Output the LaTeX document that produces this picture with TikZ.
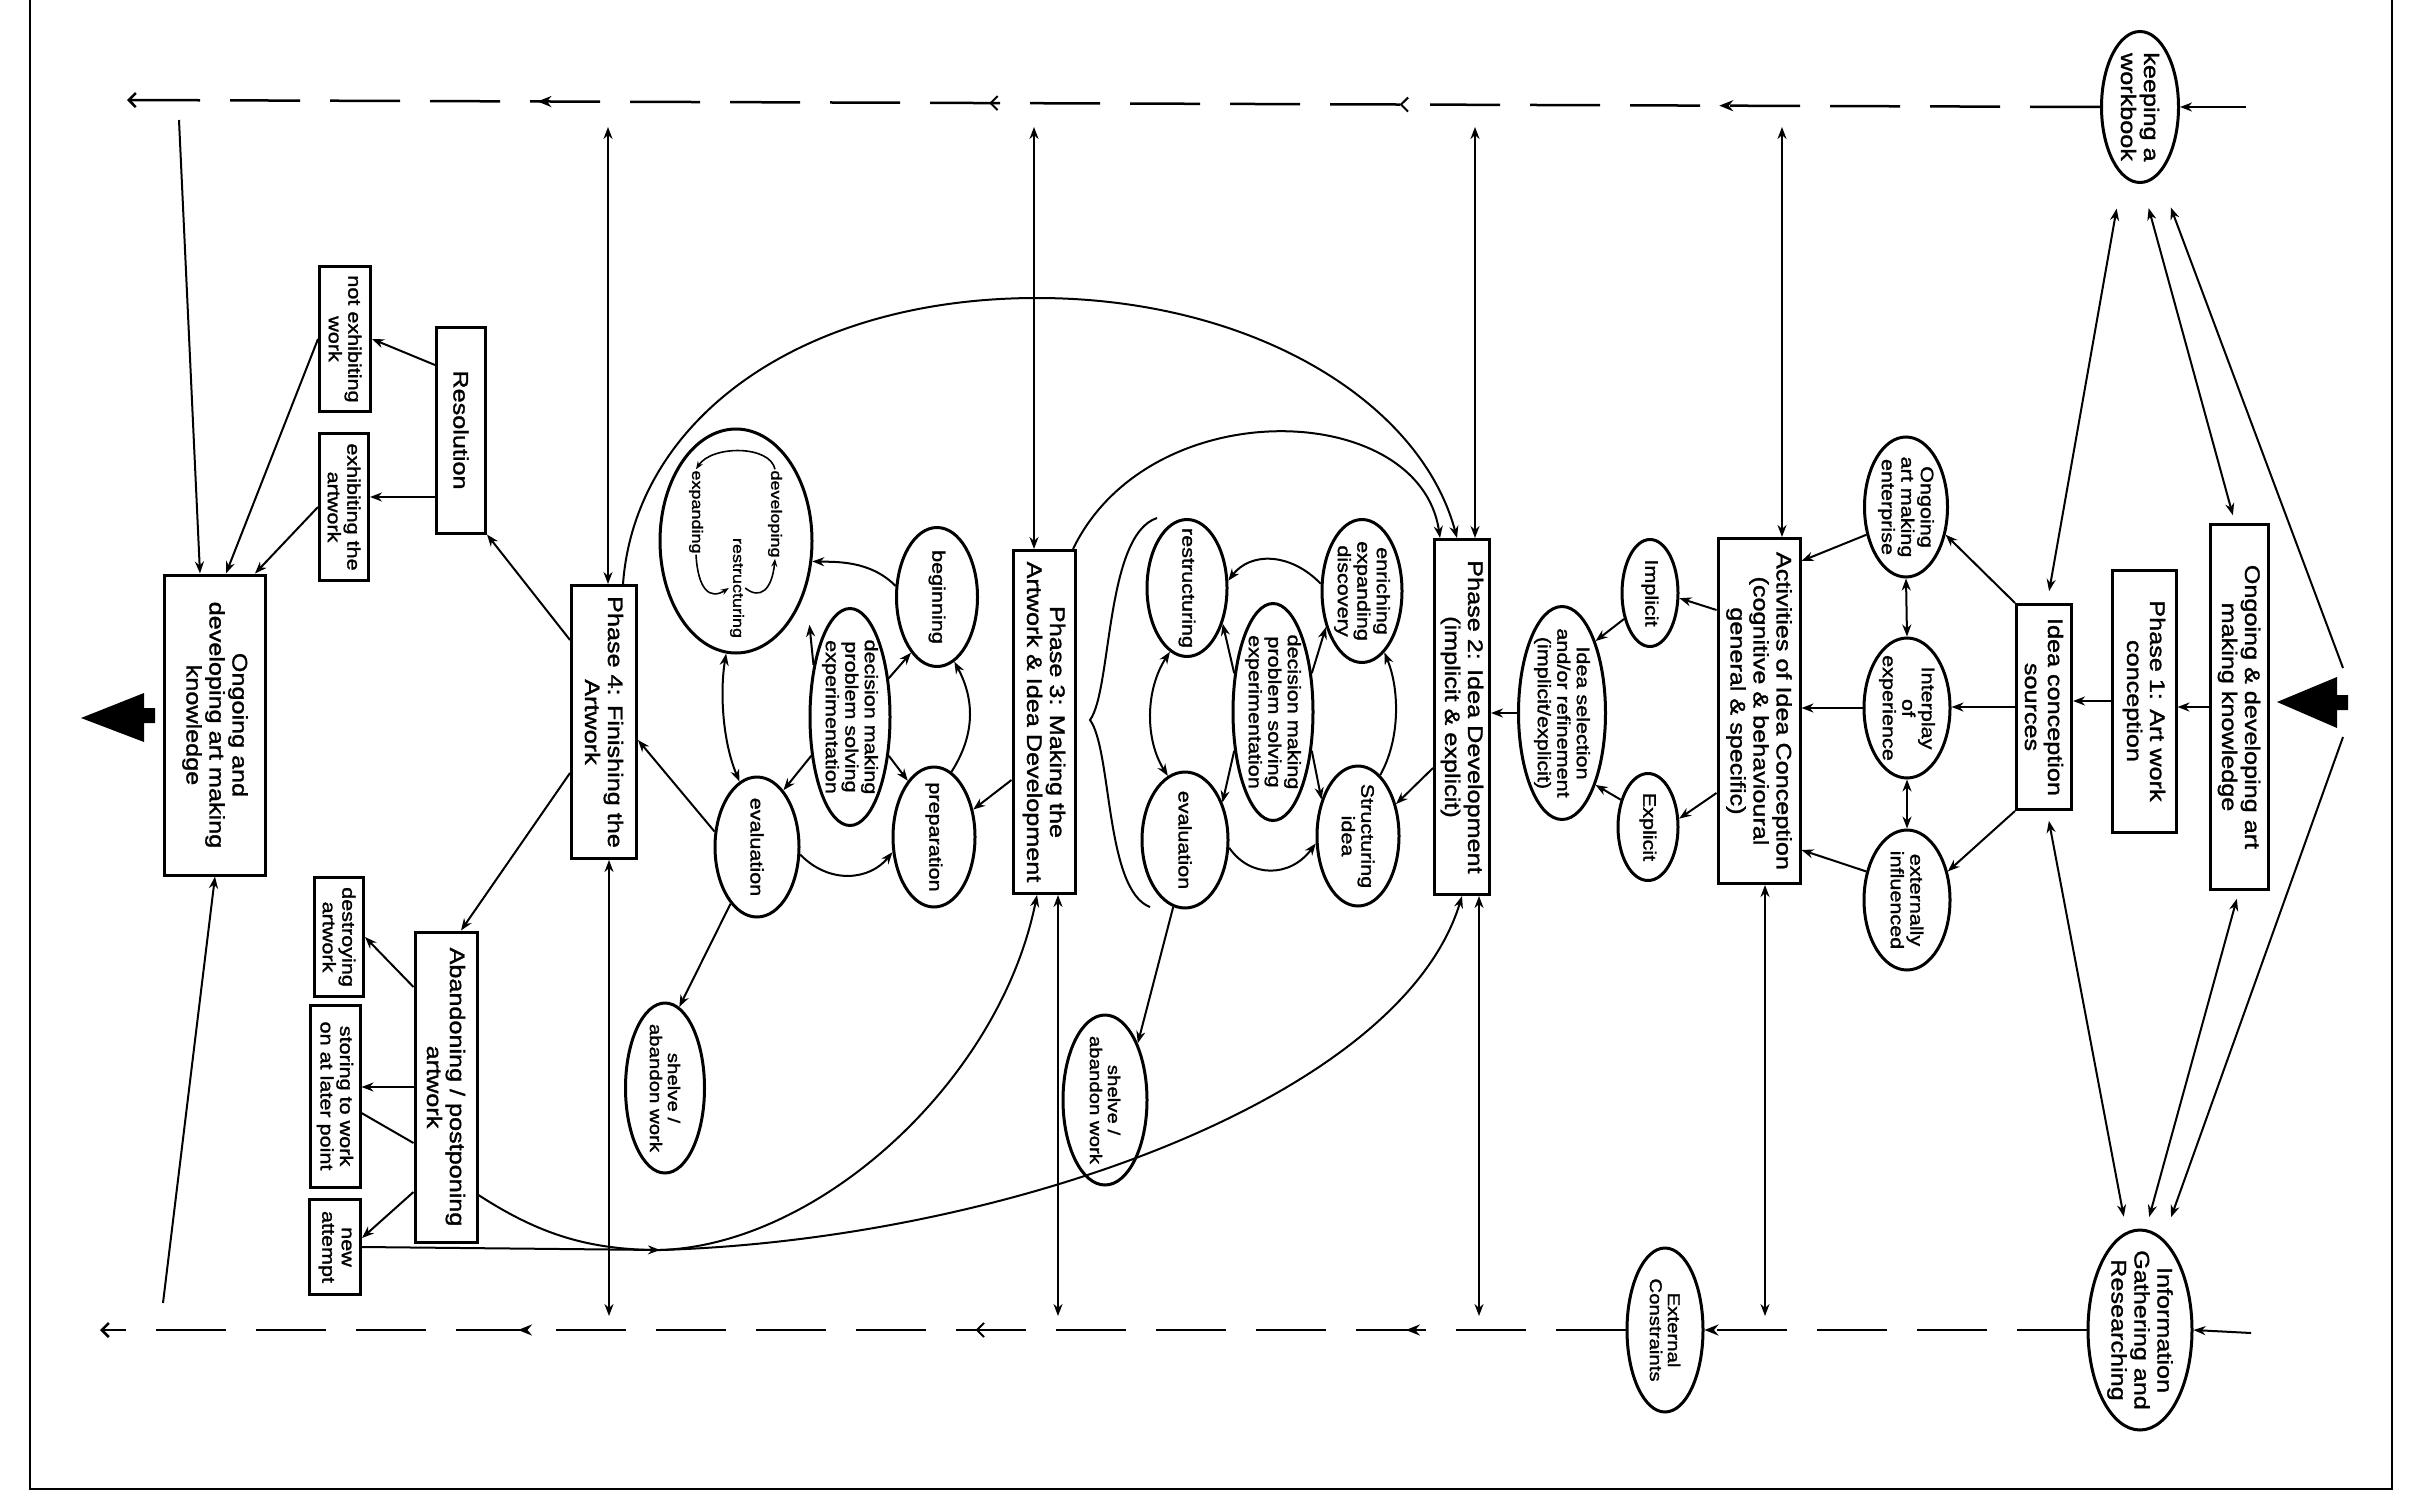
\documentclass[tikz,border=0pt]{standalone}
\usepackage{fontspec}
\setmainfont{Liberation Sans}[FakeStretch=1.2, FakeBold=1.5]
\usetikzlibrary{shapes.geometric, arrows.meta, calc, decorations.markings}
\newcommand{\fbx}{\fontsize{21}{23}\selectfont}
\newcommand{\fel}{\fontsize{18}{19.5}\selectfont}
\newcommand{\fsm}{\fontsize{17}{18}\selectfont}
\newcommand{\ftn}{\fontsize{15}{16}\selectfont}

\begin{document}
\begin{tikzpicture}[
    x=1pt, y=-1pt,
    box/.style={rectangle, draw, line width=3pt, inner sep=0pt},
    oval/.style={ellipse, draw, line width=3pt, inner sep=0pt},
    tB/.style={label={[rotate=-90, align=center, font=\fbx]center:{#1}}},
    tM/.style={label={[rotate=-90, align=center, font=\fel]center:{#1}}},
    tS/.style={label={[rotate=-90, align=center, font=\fsm]center:{#1}}},
    conn/.style={line width=2pt, -{Stealth[length=12pt, width=9pt]}},
    both/.style={line width=2pt, {Stealth[length=12pt, width=9pt]}-{Stealth[length=12pt, width=9pt]}},
    plain/.style={line width=2pt},
    small/.style={line width=1.6pt, -{Stealth[length=8pt, width=6pt]}},
    flow/.style={line width=2.5pt, dash pattern=on 70pt off 30pt},
    fa/.style={postaction={decorate, decoration={markings, mark=at position #1 with {\arrow{Stealth[length=14pt, width=11pt]}}}}},
    oa/.style={postaction={decorate, decoration={markings, mark=at position #1 with {\arrow{Straight Barb[length=7pt, width=14pt, line width=2pt]}}}}}
]
\useasboundingbox (0,0) rectangle (2412,1498);
\draw[line width=1.5pt] (30,0) -- (30,1489) -- (2392,1489) -- (2392,0);

% phase 1 side
\node[oval, minimum width=77, minimum height=151, tB={keeping a\\workbook}] (wb) at (2140,107) {};
\node[oval, minimum width=104, minimum height=200, tB={Information\\Gathering and\\Researching}] (info) at (2140,1330) {};
\node[box, minimum width=58, minimum height=365, tB={Ongoing \& developing art\\making knowledge}] (ongR) at (2239,707) {};
\node[box, minimum width=64, minimum height=262, tB={Phase 1: Art work\\conception}] (ph1) at (2144,701) {};
\node[box, minimum width=55, minimum height=205, tB={Idea conception\\sources}] (src) at (2044,707) {};
\node[oval, minimum width=83, minimum height=140, tM={Ongoing\\art making\\enterprise}] (ent) at (1906,507) {};
\node[oval, minimum width=86, minimum height=140, tM={Interplay\\of\\experience}] (inter) at (1907,708) {};
\node[oval, minimum width=86, minimum height=140, tM={externally\\influenced}] (ext) at (1907,900) {};
\node[box, minimum width=82, minimum height=345, tB={Activities of Idea Conception\\(cognitive \& behavioural\\general \& specific)}] (acts) at (1759,711) {};
\node[oval, minimum width=56, minimum height=107, tM={Implicit}] (impl) at (1650,593) {};
\node[oval, minimum width=60, minimum height=107, tM={Explicit}] (expl) at (1648,827) {};
\node[oval, minimum width=87, minimum height=213, tM={Idea selection\\and/or refinement\\(implicit/explicit)}] (sel) at (1562,713) {};
\node[oval, minimum width=76, minimum height=164, tS={External\\Constraints}] (extc) at (1665,1330) {};

% phase 2 loop
\node[box, minimum width=55, minimum height=355, tB={Phase 2: Idea Development\\(implicit \& explicit)}] (ph2) at (1462,717) {};
\node[oval, minimum width=80, minimum height=143, tM={enriching\\expanding\\discovery}] (enr) at (1362,591) {};
\node[oval, minimum width=82, minimum height=140, tM={Structuring\\idea}] (stru) at (1358,836) {};
\node[oval, minimum width=80, minimum height=217, tM={decision making\\problem solving\\experimentation}] (dec1) at (1273,712) {};
\node[oval, minimum width=80, minimum height=137, tM={restructuring}] (restr) at (1187,588) {};
\node[oval, minimum width=86, minimum height=136, tM={evaluation}] (eval1) at (1185,840) {};
\node[oval, minimum width=84, minimum height=170, tS={shelve /\\abandon work}] (shv1) at (1105,1100) {};

% phase 3 loop
\node[box, minimum width=62, minimum height=343, tB={Phase 3: Making the\\Artwork \& Idea Development}] (ph3) at (1044,722) {};
\node[oval, minimum width=81, minimum height=139, tM={beginning}] (beg) at (937,597) {};
\node[oval, minimum width=82, minimum height=140, tM={preparation}] (prep) at (934,837) {};
\node[oval, minimum width=80, minimum height=217, tM={decision making\\problem solving\\experimentation}] (dec2) at (850,717) {};
\node[oval, minimum width=152, minimum height=224] (dev) at (736,541) {};
\node[rotate=-90, font=\ftn, inner sep=1pt] (tdev) at (775,514) {developing};
\node[rotate=-90, font=\ftn, inner sep=1pt] (trst) at (737,588) {restructuring};
\node[rotate=-90, font=\ftn, inner sep=1pt] (texp) at (696,512) {expanding};
\node[oval, minimum width=84, minimum height=140, tM={evaluation}] (eval2) at (757,847) {};
\node[oval, minimum width=79, minimum height=170, tS={shelve /\\abandon work}] (shv2) at (665,1088) {};

% phase 4
\node[box, minimum width=65, minimum height=273, tB={Phase 4: Finishing the\\Artwork}] (ph4) at (604,722) {};
\node[box, minimum width=49, minimum height=206, tB={Resolution}] (res) at (461,430) {};
\node[box, minimum width=51, minimum height=145, tM={not exhibiting\\work}] (notex) at (345,339) {};
\node[box, minimum width=49, minimum height=147, tM={exhibiting the\\artwork}] (exh) at (344,507) {};
\node[box, minimum width=62, minimum height=310, tB={Abandoning / postponing\\artwork}] (aband) at (446,1087) {};
\node[box, minimum width=49, minimum height=119, tM={destroying\\artwork}] (destr) at (339,937) {};
\node[box, minimum width=50, minimum height=182, tM={storing to work\\on at later point}] (store) at (335,1096) {};
\node[box, minimum width=51, minimum height=95, tM={new\\attempt}] (newat) at (335,1247) {};
\node[box, minimum width=101, minimum height=300, tB={Ongoing and\\developing art making\\knowledge}] (ongL) at (215,725) {};

\coordinate (topln) at (0,127);
\coordinate (botln) at (0,1316);
\coordinate (tEnd) at (127,100);
\coordinate (bEnd) at (100,1330);
\coordinate (wbIn) at (2246,107);
\coordinate (infIn) at (2251,1333);
\coordinate (rA) at (2343,668);
\coordinate (rB) at (2343,737);
\coordinate (lA) at (179,120);
\coordinate (lB) at (163,1303);
\coordinate (jn) at (660,1250);

% big arrows
\fill (81,718) -- (144,693) -- (144,708) -- (155,708) -- (155,723) -- (144,723) -- (144,742) -- cycle;
\fill (2277,702) -- (2337,677) -- (2337,695) -- (2348,695) -- (2348,710) -- (2337,710) -- (2337,728) -- cycle;

% dashed time lines
\draw[flow, fa=0.193, oa=0.355, oa=0.563, fa=0.792, -{Straight Barb[length=7pt, width=14pt]}] (wb.west) -- (tEnd);
\draw[flow, -{Stealth[length=14pt, width=11pt]}] (info.west) -- (extc.east);
\draw[flow, fa=0.144, oa=0.426, fa=0.726, -{Straight Barb[length=7pt, width=14pt]}] (extc.west) -- (bEnd);
\draw[conn] (wbIn) -- (wb.east);
\draw[conn] (infIn) -- (info.east);

% right side
\draw[conn, shorten >=25pt] (rA) -- ($(wb.south)+(22,0)$);
\draw[both, shorten >=25pt, shorten <=12pt] ($(src.north)+(3,0)$) -- ($(wb.south)+(-19,0)$);
\draw[both, shorten >=25pt, shorten <=8pt] ($(ongR.north)+(-4,0)$) -- ($(wb.south)+(2,0)$);
\draw[both, shorten >=12pt, shorten <=10pt] ($(src.south)+(3,0)$) -- ($(info.north)+(-14,0)$);
\draw[both, shorten >=12pt, shorten <=8pt] (ongR.south) -- ($(info.north)+(6,0)$);
\draw[conn, shorten >=12pt] (rB) -- ($(info.north)+(27,0)$);
\draw[conn] (ongR.west) -- (ongR.west -| ph1.east);
\draw[conn] (ph1.west) -- (ph1.west -| src.east);
\draw[conn] (src.west) -- (src.west -| inter.east);
\draw[conn] (src.north west) -- (ent.-35);
\draw[conn] (src.south west) -- (ext.35);
\draw[both] (ent.south) -- (inter.north);
\draw[both] (inter.south) -- (ext.north);
\draw[conn] (ent.215) -- ($(acts.north east)+(0,24)$);
\draw[conn] (inter.west) -- (inter.west -| acts.east);
\draw[conn] (ext.145) -- ($(acts.south east)+(0,-35)$);
\draw[both] ($(acts.north)+(23,0)$) -- ($(acts.north |- topln)+(23,0)$);
\draw[both] ($(acts.south)+(6,0)$) -- ($(acts.south |- botln)+(6,0)$);
\draw[conn] ($(acts.west)+(0,-101)$) -- (impl.-10);
\draw[conn] ($(acts.west)+(0,82)$) -- (expl.15);
\draw[conn] (impl.-135) -- (sel.65);
\draw[conn] (expl.135) -- (sel.-65);
\draw[conn] (sel.west) -- (sel.west -| ph2.east);

% phase 2
\draw[both] ($(ph2.north)+(13,0)$) -- ($(ph2.north |- topln)+(13,0)$);
\draw[both] ($(ph2.south)+(17,0)$) -- ($(ph2.south |- botln)+(17,0)$);
\draw[conn] ($(ph2.west)+(0,51)$) -- (stru.40);
\draw[conn] (enr.170) .. controls (1290,552) and (1250,552) .. (restr.10);
\draw[conn] (eval1.-10) .. controls (1250,878) and (1290,878) .. (stru.190);
\draw[both] (restr.-105) .. controls (1145,690) and (1145,740) .. (eval1.105);
\draw[conn] (stru.70) .. controls (1400,740) and (1400,690) .. (enr.-70);
\draw[conn] (dec1.135) -- (restr.-45);
\draw[conn] (dec1.45) -- (enr.-135);
\draw[conn] (dec1.-135) -- (eval1.45);
\draw[conn] (dec1.-45) -- (stru.135);
\draw[conn] (eval1.-100) -- (shv1.60);
\draw[plain] (1157,518) .. controls (1105,535) and (1112,690) .. (1090,720) .. controls (1112,750) and (1105,890) .. (1150,907);

% phase 3
\draw[both] ($(ph3.north)+(-10,0)$) -- ($(ph3.north |- topln)+(-10,0)$);
\draw[both] ($(ph3.south)+(14,0)$) -- ($(ph3.south |- botln)+(14,0)$);
\draw[conn] ($(ph3.north)+(29,0)$) .. controls (1150,390) and (1420,400) .. ($(ph2.north)+(-22,0)$);
\draw[conn] ($(ph4.north)+(19,0)$) .. controls (635,420) and (800,298) .. (1037,298) .. controls (1250,298) and (1420,400) .. ($(ph2.north)+(-5,0)$);
\draw[conn] ($(ph3.west)+(0,58)$) -- (prep.35);
\draw[conn] (prep.75) .. controls (975,735) and (975,700) .. (beg.-75);
\draw[conn] (dec2.45) -- (beg.-115);
\draw[conn] (dec2.-45) -- (prep.115);
\draw[conn] (beg.165) .. controls (870,560) and (835,562) .. (dev.-15);
\draw[conn] (eval2.-10) .. controls (830,885) and (870,880) .. (prep.200);
\draw[conn, shorten >=35pt] (dec2.125) -- (dev.-35);
\draw[conn] (dec2.-135) -- (eval2.65);
\draw[both] (dev.-95) .. controls (720,690) and (722,740) .. (eval2.105);
\draw[small] (tdev.west) .. controls (770,445) and (712,445) .. (texp.west);
\draw[small] (texp.east) .. controls (698,590) and (710,600) .. (trst.south);
\draw[small] (trst.north) .. controls (760,600) and (772,590) .. (tdev.east);
\draw[conn] (eval2.160) -- ($(ph4.east)+(0,18)$);
\draw[conn] (eval2.-115) -- (shv2.80);

% phase 4
\draw[both] ($(ph4.north)+(4,0)$) -- ($(ph4.north |- topln)+(4,0)$);
\draw[both] ($(ph4.south)+(5,0)$) -- ($(ph4.south |- botln)+(5,0)$);
\draw[conn] ($(ph4.west)+(0,-82)$) -- (res.south east);
\draw[conn] ($(ph4.west)+(0,51)$) -- ($(aband.north)+(15,0)$);
\draw[conn] ($(res.west)+(0,-65)$) -- (notex.east);
\draw[conn] ($(res.west)+(0,67)$) -- ($(exh.east)+(0,-10)$);
\draw[conn] (notex.west) -- ($(ongL.north)+(11,0)$);
\draw[conn] (exh.west) -- ($(ongL.north)+(40,0)$);
\draw[conn] (lA) -- ($(ongL.north)+(-15,0)$);
\draw[conn] (lB) -- (ongL.south);
\draw[conn] ($(aband.west)+(0,-100)$) -- (destr.east);
\draw[conn] (aband.west) -- ($(store.east)+(0,-9)$);
\draw[plain] ($(aband.west)+(0,56)$) -- ($(store.east)+(0,17)$);
\draw[conn] ($(aband.west)+(0,105)$) -- ($(newat.east)+(0,-9)$);
\draw[conn] (newat.east) -- (jn);
\draw[plain] ($(aband.east)+(0,108)$) .. controls (540,1235) and (590,1250) .. (jn);
\draw[conn] (jn) .. controls (820,1245) and (1000,1080) .. ($(ph3.south)+(-7,0)$);
\draw[conn] (jn) .. controls (1000,1240) and (1400,1100) .. (ph2.south);

\end{tikzpicture}
\end{document}
